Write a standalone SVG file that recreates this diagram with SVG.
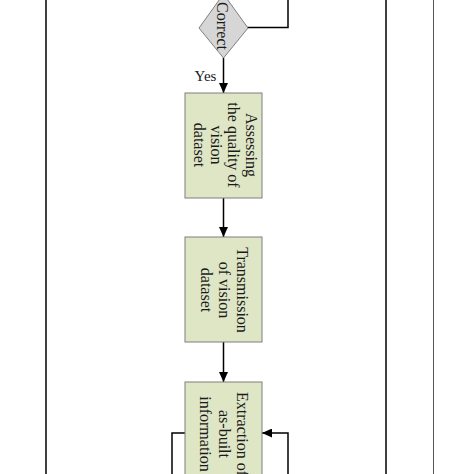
<svg xmlns="http://www.w3.org/2000/svg" width="474" height="474" viewBox="0 0 474 474">
<style>
.box{fill:#dfe6c6;stroke:#7f7f7f;stroke-width:1}
.dia{fill:#d6d6d6;stroke:#7f7f7f;stroke-width:1}
.t{font-family:"Liberation Serif",serif;font-size:16px;fill:#1a1a1a;text-anchor:middle;dominant-baseline:central}
.ln{fill:none;stroke:#000;stroke-width:1.5}
</style>
<defs>
<marker id="ah" markerWidth="11" markerHeight="9" refX="10" refY="4.5" orient="auto" markerUnits="userSpaceOnUse">
<path d="M0,0 L10,4.5 L0,9 z" fill="#000"/>
</marker>
</defs>
<rect width="474" height="474" fill="#fff"/>
<g id="frame">
<line x1="46" y1="0" x2="46" y2="474" stroke="#000" stroke-width="1.5"/>
<line x1="386" y1="0" x2="386" y2="474" stroke="#000" stroke-width="1.5"/>
<line x1="433.5" y1="0" x2="433.5" y2="474" stroke="#555" stroke-width="1"/>
</g>
<g id="connectors">
<polyline class="ln" points="247,27.5 288,27.5 288,0"/>
<line class="ln" x1="223.5" y1="58" x2="223.5" y2="93" marker-end="url(#ah)"/>
<line class="ln" x1="223.5" y1="198" x2="223.5" y2="237" marker-end="url(#ah)"/>
<line class="ln" x1="223.5" y1="342" x2="223.5" y2="382" marker-end="url(#ah)"/>
<polyline class="ln" points="185,433 172,433 172,474"/>
<polyline class="ln" points="288,474 288,433 262,433" marker-end="url(#ah)"/>
<text x="205.5" y="81" font-family="Liberation Serif, serif" font-size="15" fill="#1a1a1a" text-anchor="middle">Yes</text>
</g>
<g id="correct">
<polygon class="dia" points="223.5,-6 248,28 223.5,58 199,28"/>
<text class="t" transform="translate(222,26) rotate(90)" x="0" y="0">Correct</text>
</g>
<g id="assess">
<rect class="box" x="185" y="93" width="77" height="105"/>
<g transform="translate(224,145) rotate(90)">
<text class="t" x="0" y="-27">Assessing</text>
<text class="t" x="0" y="-9.5">the quality of</text>
<text class="t" x="0" y="7.5">vision</text>
<text class="t" x="0" y="24.5">dataset</text>
</g>
</g>
<g id="transmit">
<rect class="box" x="185" y="237" width="77" height="105"/>
<g transform="translate(224,290) rotate(90)">
<text class="t" x="0" y="-18">Transmission</text>
<text class="t" x="0" y="0">of vision</text>
<text class="t" x="0" y="18">dataset</text>
</g>
</g>
<g id="extract">
<rect class="box" x="185" y="382" width="77" height="110"/>
<g transform="translate(224,434) rotate(90)">
<text class="t" x="0" y="-18">Extraction of</text>
<text class="t" x="0" y="0">as-built</text>
<text class="t" x="0" y="19">information</text>
</g>
</g>
</svg>
